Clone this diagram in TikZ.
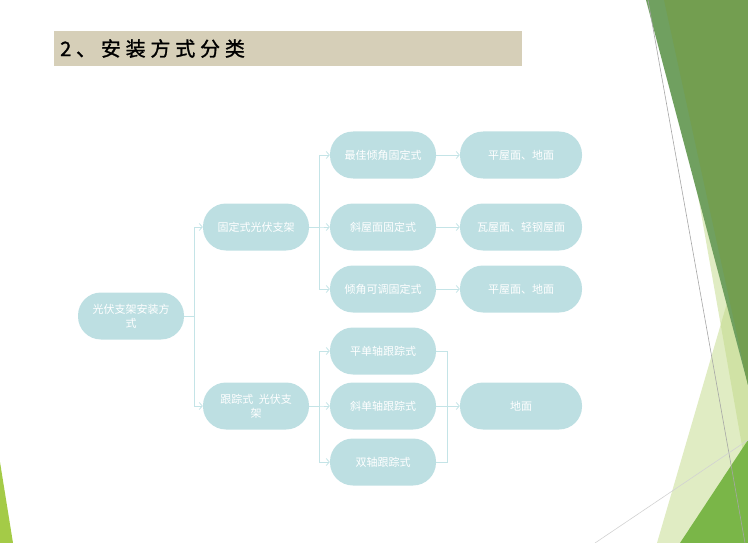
\documentclass[tikz,border=0pt]{standalone}
\usepackage{fontspec}
\newfontfamily\cjk{Noto Sans CJK SC}
\newfontfamily\titlefont[LetterSpace=24,FakeBold=1.2]{Noto Sans CJK SC}
\usetikzlibrary{arrows.meta}
\definecolor{pillfill}{RGB}{189,223,226}
\definecolor{linkline}{RGB}{196,228,231}
\definecolor{titlebar}{RGB}{214,207,184}
\definecolor{leafdark}{RGB}{115,158,80}
\definecolor{leafstrip}{RGB}{112,160,96}
\definecolor{leafpale}{RGB}{193,217,135}
\definecolor{leafbright}{RGB}{122,182,72}
\definecolor{leaflime}{RGB}{164,203,71}

\begin{document}
\begin{tikzpicture}[x=1pt,y=-1pt,
  pill/.style={rectangle,rounded corners=23pt,fill=pillfill,text=white,minimum width=106pt,minimum height=47pt,inner sep=2pt,align=center,font=\cjk\fontsize{11}{14}\selectfont},
  wide/.style={pill,minimum width=122pt},
  joint/.style={draw=linkline,line width=0.8pt},
  link/.style={joint,-{Straight Barb[length=3pt,width=7pt]}}]
\useasboundingbox (0,0) rectangle (748,543);
% facets on the right
\fill[leafpale,opacity=0.5] (657,543) -- (748,231) -- (748,543) -- cycle;
\fill[leafpale,opacity=0.5] (697,190) -- (748,480) -- (748,150) -- cycle;
\fill[leafstrip] (646,0) -- (748,0) -- (748,385) -- cycle;
\fill[leafdark] (664,0) -- (748,0) -- (748,385) -- cycle;
\fill[leafbright] (680,543) -- (748,440) -- (748,543) -- cycle;
\fill[leaflime] (0,462) -- (13,543) -- (0,543) -- cycle;
\draw[gray!70,line width=0.6pt] (648,0) -- (745,543);
\draw[gray!35,line width=0.6pt] (595,543) -- (748,440);
% title
\fill[titlebar] (54,31) rectangle (522,66);
\node[anchor=west,inner sep=0pt,font=\titlefont\fontsize{20}{22}\selectfont] (title) at (60,48.5) {2、安装方式分类};
% tree
\node[pill] (root) at (131,316) {光伏支架安装方\\式};
\node[pill] (fixed) at (256,227) {固定式光伏支架};
\node[pill] (track) at (256,406) {跟踪式\enspace 光伏支\\架};
\node[pill] (best) at (383,155) {最佳倾角固定式};
\node[pill] (slope) at (383,227) {斜屋面固定式};
\node[pill] (adjust) at (383,289) {倾角可调固定式};
\node[pill] (flat) at (383,351) {平单轴跟踪式};
\node[pill] (tilt) at (383,406) {斜单轴跟踪式};
\node[pill] (dual) at (383,462) {双轴跟踪式};
\node[wide] (roofa) at (521,155) {平屋面、地面};
\node[wide] (roofb) at (521,227) {瓦屋面、轻钢屋面};
\node[wide] (roofc) at (521,289) {平屋面、地面};
\node[wide] (ground) at (521,406) {地面};

\foreach \dst in {fixed,track}
  \draw[link] (root.east) -- ++(10,0) |- (\dst.west);
\foreach \dst in {best,slope,adjust}
  \draw[link] (fixed.east) -- ++(10,0) |- (\dst.west);
\foreach \dst in {flat,tilt,dual}
  \draw[link] (track.east) -- ++(10,0) |- (\dst.west);
\draw[link] (best) -- (roofa);
\draw[link] (slope) -- (roofb);
\draw[link] (adjust) -- (roofc);
\draw[joint] (flat.east) -- ++(11,0) |- (dual.east);
\draw[link] (tilt) -- (ground);
\end{tikzpicture}
\end{document}
